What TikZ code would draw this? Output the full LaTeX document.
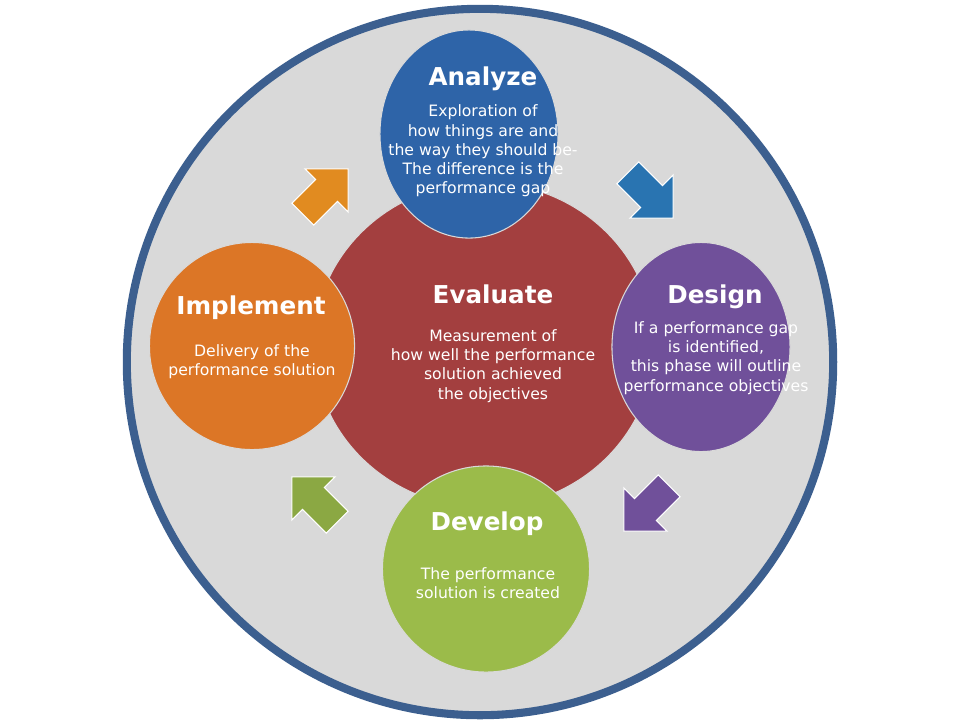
\documentclass[tikz,border=0pt]{standalone}
\usepackage{fontspec}
\setmainfont{DejaVu Sans}
\usetikzlibrary{shapes.geometric,shapes.arrows}
\definecolor{ringblue}{HTML}{3C5F8F}
\definecolor{ringfill}{HTML}{D9D9D9}
\definecolor{analyzec}{HTML}{2E64A8}
\definecolor{designc}{HTML}{70509A}
\definecolor{developc}{HTML}{9BBB4A}
\definecolor{implementc}{HTML}{DC7626}
\definecolor{evaluatec}{HTML}{A33F3F}
\tikzset{
  phase/.style={ellipse, draw=white!85!black, line width=0.3pt, text=white, align=center,
    font=\fontsize{4.3}{5.45}\selectfont, inner sep=0pt},
  body/.style={text=white, align=center, font=\fontsize{4.45}{5.45}\selectfont},
  title/.style={text=white, font=\fontsize{7}{8}\selectfont\bfseries},
  blockarrow/.style={single arrow, minimum height=0.64cm, inner sep=0.15cm,
    single arrow head extend=0.15cm, single arrow head indent=0pt, draw=white, line width=0.3pt}
}
\begin{document}
\begin{tikzpicture}[x=0.01cm,y=-0.01cm]
\useasboundingbox (0,0) rectangle (960,720);
\node[circle, draw=ringblue, fill=ringfill, line width=2.3pt, minimum size=7.06cm] (ring) at (480,362) {};
\node[phase, fill=evaluatec, minimum width=3.4cm, minimum height=3.25cm] (evaluate) at (484,345) {};
\node[title] (evaltitle) at (493,294) {Evaluate};
\node[body] (evaltext) at (493,366)
  {Measurement of\\how well the performance\\solution achieved\\the objectives};
\node[phase, fill=analyzec, minimum width=1.78cm, minimum height=2.08cm] (analyze) at (469,134) {};
\node[title] at (483,79) {Analyze};
\node[body] at (483,151)
  {Exploration of\\how things are and\\the way they should be-\\The difference is the\\performance gap};
\node[phase, fill=designc, minimum width=1.78cm, minimum height=2.09cm] (design) at (701,347) {};
\node[title] at (715,297) {Design};
\node[body] at (716,358)
  {If a performance gap\\is identified,\\this phase will outline\\performance objectives};
\node[phase, fill=developc, minimum width=2.07cm, minimum height=2.06cm] (develop) at (486,569) {};
\node[title] at (487,524) {Develop};
\node[body] at (488,583)
  {The performance\\solution is created};
\node[phase, fill=implementc, minimum width=2.05cm, minimum height=2.07cm] (implement) at (252,346) {};
\node[title] at (251,308) {Implement};
\node[body] at (252,362)
  {Delivery of the\\performance solution};
% arrows between phases
\node[blockarrow, fill=implementc!85!yellow, rotate=45] (toanalyze) at (320,197) {};
\node[blockarrow, fill=analyzec!90!cyan, rotate=-45] (todesign) at (645,190) {};
\node[blockarrow, fill=designc, rotate=-135] (todevelop) at (652,503) {};
\node[blockarrow, fill=developc!90!black, rotate=135] (toimplement) at (320,505) {};
\end{tikzpicture}
\end{document}
